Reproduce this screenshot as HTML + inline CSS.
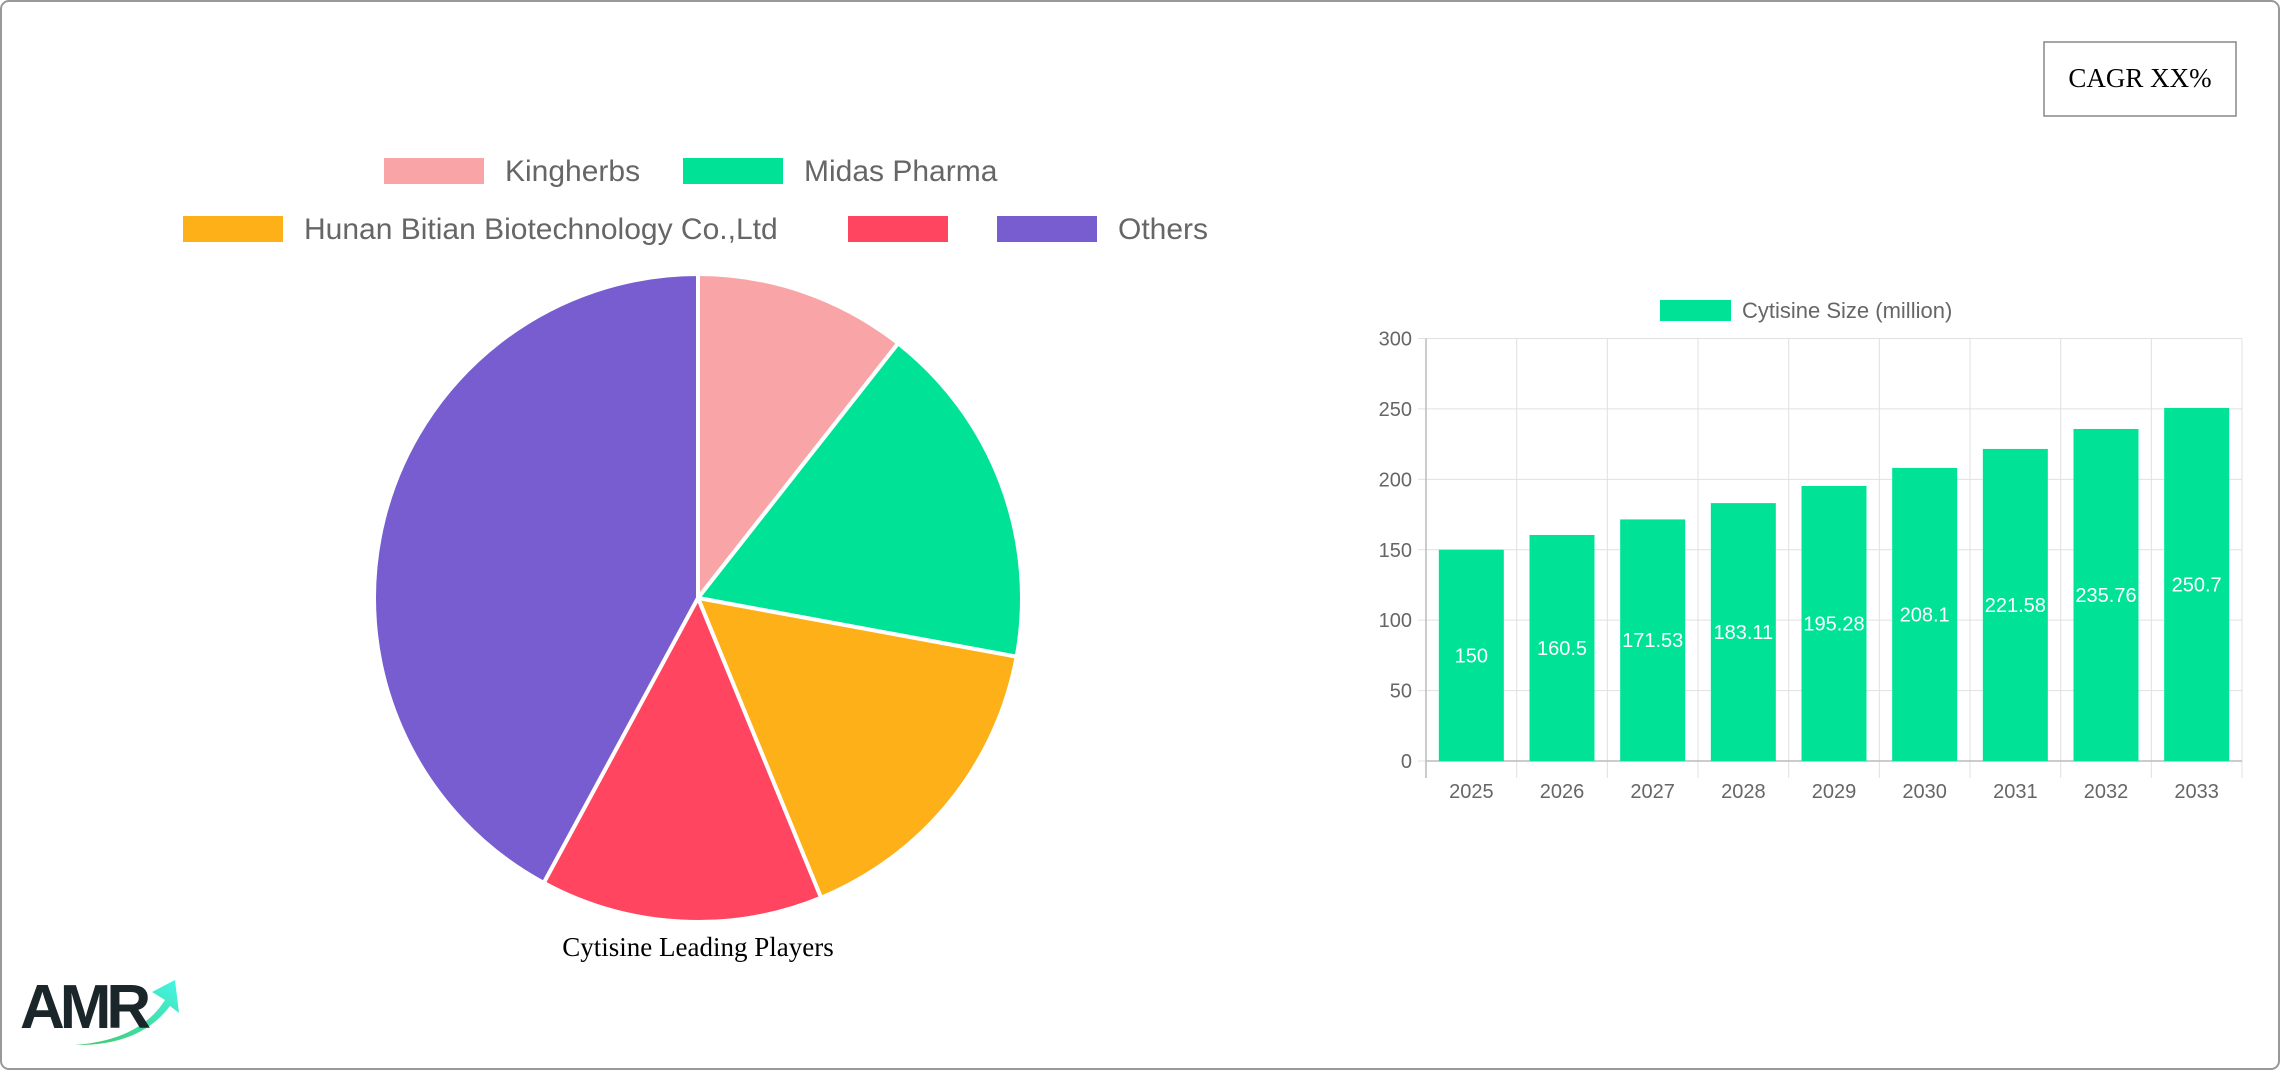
<!DOCTYPE html>
<html><head><meta charset="utf-8"><style>
body{margin:0;background:#fff;}
#wrap{position:relative;width:2280px;height:1070px;overflow:hidden;font-family:"Liberation Sans",sans-serif;}
</style></head><body>
<div id="wrap">
<svg id="svg" width="2280" height="1070" xmlns="http://www.w3.org/2000/svg">
<rect x="1" y="1" width="2278" height="1068" rx="8" fill="#fff" stroke="#999" stroke-width="2"/>
<g>
<rect x="2044" y="42" width="192" height="74" fill="#fff" stroke="#888" stroke-width="1.5"/>
<text x="2140" y="87" text-anchor="middle" font-family="Liberation Serif" font-size="27" fill="#000">CAGR XX%</text>
</g>
<g id="pieLegend"></g>
<g id="pie"></g>
<text x="698" y="956" text-anchor="middle" font-family="Liberation Serif" font-size="27" fill="#000">Cytisine Leading Players</text>
<g id="bar"></g>
<g>
<defs><linearGradient id="gr" x1="0" y1="1" x2="1" y2="0"><stop offset="0" stop-color="#3ec96a"/><stop offset="1" stop-color="#44f5e6"/></linearGradient></defs>
<path d="M75 1045 Q140 1040 165 1000 L152 992 L175 980 L179 1013 L170 1006 Q140 1046 75 1045 Z" fill="url(#gr)"/>
<text x="20" y="1028" font-family="Liberation Sans" font-weight="bold" font-size="62" fill="#1b262b" letter-spacing="-5">AMR</text>
</g>
</svg>
</div>
<script>
const NS="http://www.w3.org/2000/svg";
const pieLabels=["Kingherbs","Midas Pharma","Hunan Bitian Biotechnology Co.,Ltd","","Others"];
const pieValues=[10.6,17.3,15.9,14.1,42.1];
const pieColors=["#f9a5a7","#00e396","#feb019","#ff4560","#775dd0"];
const barCategories=["2025","2026","2027","2028","2029","2030","2031","2032","2033"];
const barValues=[150,160.5,171.53,183.11,195.28,208.1,221.58,235.76,250.7];
const barLabels=["150","160.5","171.53","183.11","195.28","208.1","221.58","235.76","250.7"];
const yTicks=[0,50,100,150,200,250,300];
function mk(tag,attrs,parent){const e=document.createElementNS(NS,tag);for(const k in attrs)e.setAttribute(k,attrs[k]);parent.appendChild(e);return e;}
const lg=document.getElementById('pieLegend');
const legPos=[[384,158],[683,158],[183,216],[848,216],[997,216]];
pieLabels.forEach((l,i)=>{
 const g=mk('g',{},lg);
 
 
 mk('rect',{x:legPos[i][0],y:legPos[i][1],width:100,height:26,fill:pieColors[i]},g);
 const t=mk('text',{x:legPos[i][0]+121,y:legPos[i][1]+23,'font-size':'30',fill:'#666'},g);t.textContent=l;
});
const pg=document.getElementById('pie');
const cx=698,cy=598,r=324;
const tot=pieValues.reduce((a,b)=>a+b,0);
let a0=0;
pieValues.forEach((v,i)=>{
 const a1=a0+v/tot*2*Math.PI;
 const x0=cx+r*Math.sin(a0),y0=cy-r*Math.cos(a0),x1=cx+r*Math.sin(a1),y1=cy-r*Math.cos(a1);
 const p=mk('path',{d:`M${cx} ${cy} L${x0} ${y0} A${r} ${r} 0 ${a1-a0>Math.PI?1:0} 1 ${x1} ${y1} Z`,fill:pieColors[i],stroke:'#fff','stroke-width':4},pg);
 
 
 a0=a1;
});
const bg=document.getElementById('bar');
const X0=1426,X1=2242,Y0=761,Y1=338.5,ymax=300;
const yS=v=>Y0-(v/ymax)*(Y0-Y1);
const cw=(X1-X0)/barCategories.length;
yTicks.forEach(t=>{
 const y=yS(t);
 mk('line',{x1:X0-8,x2:X1,y1:y,y2:y,stroke:'#e0e0e0','stroke-width':1},bg);
 const tx=mk('text',{x:X0-14,y:y+7,'text-anchor':'end','font-size':'20',fill:'#666'},bg);
 
 
 tx.textContent=t;
});
for(let i=0;i<=barCategories.length;i++){
 const x=X0+i*cw;
 mk('line',{x1:x,x2:x,y1:Y1,y2:Y0+17,stroke:'#e0e0e0','stroke-width':1},bg);
}
mk('line',{x1:X0,x2:X0,y1:Y1,y2:Y0+17,stroke:'#bbb','stroke-width':1.5},bg);
mk('line',{x1:X0,x2:X1,y1:Y0,y2:Y0,stroke:'#bbb','stroke-width':1.5},bg);
barCategories.forEach((c,i)=>{
 const xc=X0+cw*(i+0.5),bw=65,y=yS(barValues[i]);
 const b=mk('rect',{x:xc-bw/2,y:y,width:bw,height:Y0-y,fill:'#00e396'},bg);
 
 
 const v=mk('text',{x:xc,y:(y+Y0)/2+7,'text-anchor':'middle','font-size':'20',fill:'#fff'},bg);
 
 
 v.textContent=barLabels[i];
 const t=mk('text',{x:xc,y:798,'text-anchor':'middle','font-size':'20',fill:'#666'},bg);
 
 
 t.textContent=c;
});
const bl=mk('g',{},bg);


mk('rect',{x:1660,y:300,width:71,height:21,fill:'#00e396'},bl);
const blt=mk('text',{x:1742,y:318,'font-size':'22',fill:'#666'},bl);blt.textContent="Cytisine Size (million)";
</script>
</body></html>
